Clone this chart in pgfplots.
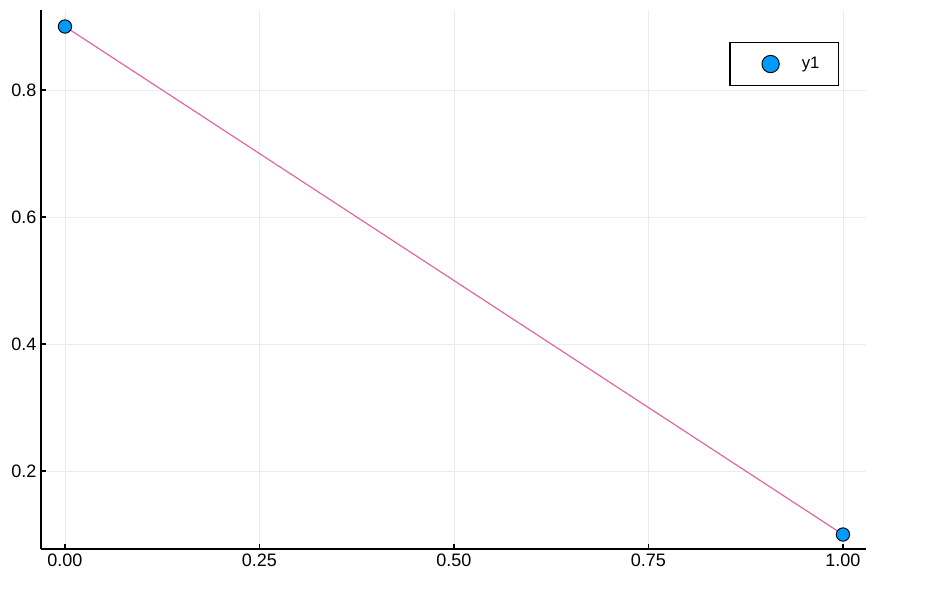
\documentclass[border=0pt]{standalone}
\usepackage{pgfplots}
\pgfplotsset{compat=1.18}
\usepackage{fontspec}
\setmainfont{Liberation Sans}
\definecolor{juliablue}{HTML}{009AFA}
\definecolor{linepink}{RGB}{224,102,166}
\definecolor{gridgray}{RGB}{236,236,236}
\begin{document}
\begin{tikzpicture}
\begin{axis}[
  scale only axis,
  width=618.75pt, height=404.25pt,
  xmin=-0.0308, xmax=1.0296,
  ymin=0.0772, ymax=0.926,
  axis lines=left,
  axis line style={-, black, line width=0.9pt},
  xtick={0,0.25,0.5,0.75,1},
  ytick={0.2,0.4,0.6,0.8},
  tick align=inside,
  major tick length=4pt,
  tick style={black, line width=0.9pt},
  grid=major,
  grid style={gridgray, line width=0.6pt},
  /pgf/number format/assume math mode=true,
  xticklabel style={/pgf/number format/.cd, fixed, fixed zerofill, precision=2},
  yticklabel style={/pgf/number format/.cd, fixed, fixed zerofill, precision=1},
  tick label style={font=\fontsize{13.5}{15}\selectfont},
  legend style={at={(0.967,0.9406)}, anchor=north east, draw=black, line width=0.9pt,
    font=\fontsize{12.5}{14}\selectfont, inner xsep=12pt, inner ysep=9pt},
  legend image code/.code={\path (0pt,0pt) (39pt,0pt); \draw[#1, mark size=6.5pt] plot coordinates {(18pt,0pt)};},
  legend cell align=left,
  clip=false,
]
\addplot[linepink, line width=0.9pt, forget plot] coordinates {(0,0.9) (1,0.1)};
\addplot[only marks, mark=*, mark size=5pt, mark options={fill=juliablue, draw=black, line width=0.7pt}] coordinates {(0,0.9) (1,0.1)};
\addlegendentry{y1}
\coordinate (bl) at (axis description cs:-0.0497,-0.0853);
\coordinate (tr) at (axis description cs:1.0764,1.0186);
\end{axis}
\pgfresetboundingbox
\path (bl) rectangle (tr);
\end{tikzpicture}
\end{document}
